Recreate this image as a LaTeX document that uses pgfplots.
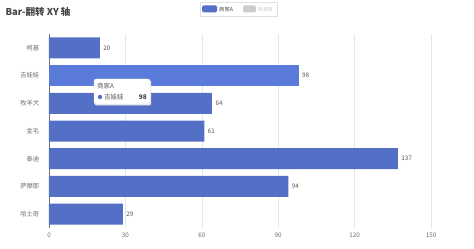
\documentclass[border=0pt]{standalone}
\usepackage{fontspec}
\setmainfont{Noto Sans CJK SC}
\usepackage{pgfplots}
\pgfplotsset{compat=1.18}
\definecolor{barA}{HTML}{5470C6}
\definecolor{barH}{HTML}{5B7BDA}
\definecolor{axisgray}{HTML}{6E7079}
\definecolor{gridgray}{HTML}{E0E6F1}
\definecolor{titlegray}{HTML}{464646}
\definecolor{labgray}{HTML}{555555}
\begin{document}
\begin{tikzpicture}[x=1pt,y=1pt]
\path (0,0) rectangle (474,249);
\begin{axis}[at={(49pt,21pt)}, anchor=south west, scale only axis,
  width=382pt, height=194pt,
  xmin=0, xmax=150, ymin=-0.5, ymax=6.5, y dir=reverse,
  xtick={0,30,...,150},
  ytick={0,...,6},
  yticklabels={柯基,吉娃娃,牧羊犬,金毛,泰迪,萨摩耶,哈士奇},
  extra y ticks={-0.5,0.5,1.5,2.5,3.5,4.5,5.5,6.5},
  extra y tick labels={},
  extra y tick style={major tick length=4pt, tick align=outside, tick style={axisgray, line width=0.6pt}, grid=none},
  ytick style={draw=none},
  xtick style={draw=none},
  xmajorgrids, major grid style={gridgray, line width=0.6pt},
  axis x line*=bottom, axis y line*=left,
  x axis line style={draw=none},
  y axis line style={axisgray, line width=0.6pt, -},
  ticklabel style={font=\fontsize{6.3}{7}\selectfont, text=axisgray},
  yticklabel style={xshift=-2pt},
  xticklabel style={yshift=-1pt},
  /pgf/number format/assume math mode=true,
  xbar, bar width=21pt, bar shift=0pt,
  nodes near coords,
  nodes near coords style={font=\fontsize{6.3}{7}\selectfont, text=labgray, anchor=west, xshift=0pt},
  clip=false,
]
\addplot[fill=barA, draw=none] coordinates {(20,0) (64,2) (61,3) (137,4) (94,5) (29,6)};
\addplot[fill=barH, draw=none] coordinates {(98,1)};
\end{axis}
% title
\node[anchor=west, font=\fontsize{9.5}{11}\selectfont\bfseries, text=titlegray] at (2,237) {Bar-翻转 XY 轴};
% legend
\draw[black!12, line width=0.5pt] (200,233) rectangle (277,247);
\fill[barA, rounded corners=1.5pt] (202,236.5) rectangle (217,243.5);
\node[anchor=west, font=\fontsize{5.3}{6}\selectfont, text=titlegray, inner sep=0pt] at (219,240) {商家A};
\fill[black!20, rounded corners=1.5pt] (243,236.5) rectangle (256,243.5);
\node[anchor=west, font=\fontsize{5.3}{6}\selectfont, text=black!22, inner sep=0pt] at (258,240) {商家B};
% tooltip
\fill[black!8, rounded corners=2pt] (94.5,143.5) rectangle (151,169);
\filldraw[fill=white, draw=black!12, rounded corners=2pt] (94,145) rectangle (150,170);
\node[anchor=west, font=\fontsize{6.5}{7}\selectfont, text=black!65, inner sep=0pt] at (97,163) {商家A};
\fill[barA] (100,152) circle (2.2);
\node[anchor=west, font=\fontsize{6.5}{7}\selectfont, text=black!65, inner sep=0pt] at (104,152) {吉娃娃};
\node[anchor=east, font=\fontsize{6.5}{7}\selectfont\bfseries, text=black!75, inner sep=0pt] at (147,152) {98};
\end{tikzpicture}
\end{document}
